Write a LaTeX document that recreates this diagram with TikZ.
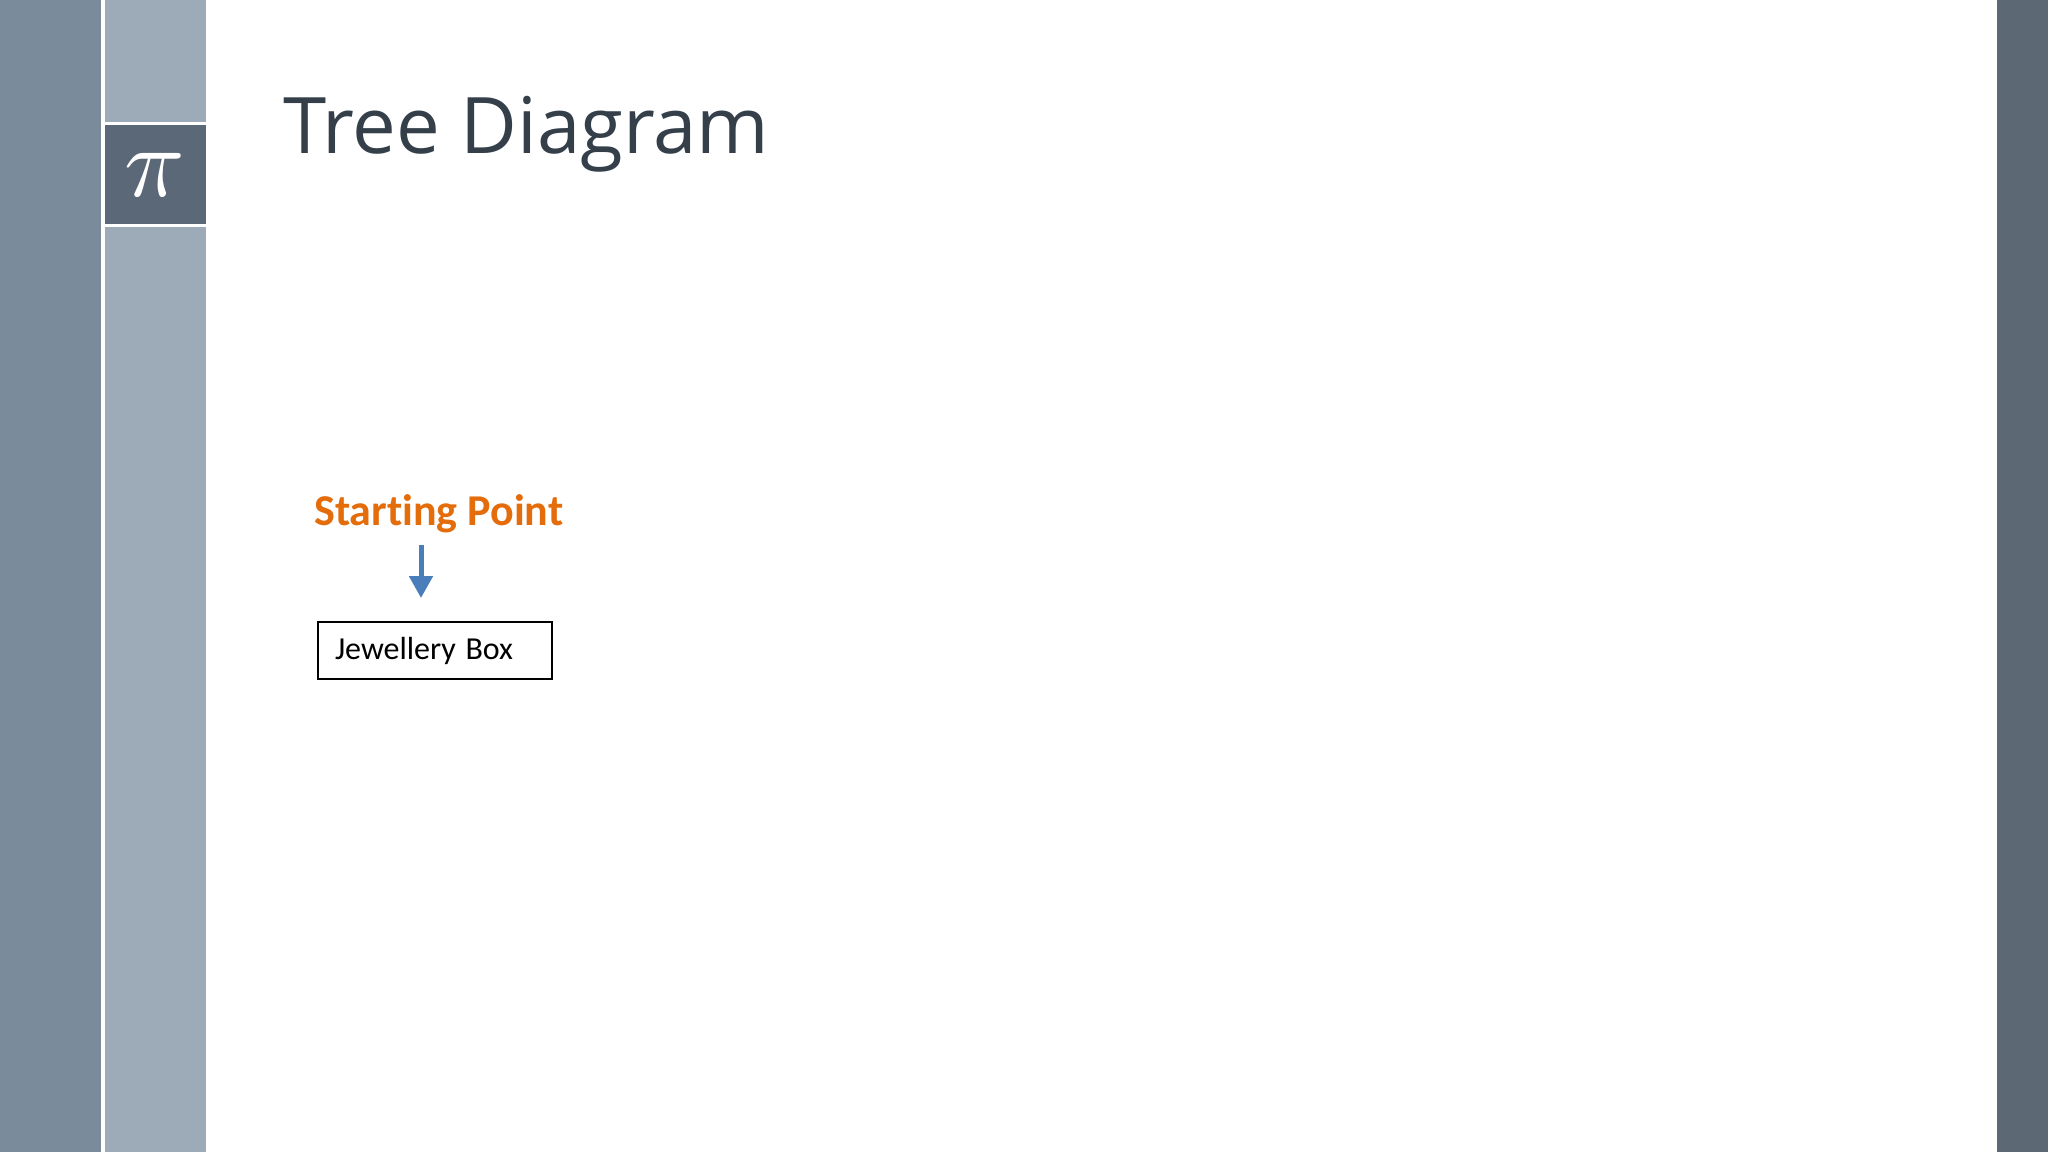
\documentclass[tikz,border=0pt]{standalone}
\usepackage{fontspec}
\usepackage{tikz}
\usetikzlibrary{arrows.meta}
\newfontfamily\titlefont{Open Sans}
\newfontfamily\calibri[Ligatures={NoCommon}]{Carlito}
\definecolor{barouter}{HTML}{7A8C9B}
\definecolor{barinner}{HTML}{9DAAB7}
\definecolor{pibox}{HTML}{5B6877}
\definecolor{barright}{HTML}{5C6874}
\definecolor{titlegray}{HTML}{343F4A}
\definecolor{startorange}{HTML}{E46C0A}
\definecolor{arrowblue}{HTML}{4A7EBB}

\begin{document}
\begin{tikzpicture}[x=1pt, y=-1pt, nodes={inner sep=0pt}]
\useasboundingbox (0,0) rectangle (2048,1152);
\fill[white] (0,0) rectangle (2048,1152);
% side bars
\fill[barouter] (0,0) rectangle (101,1152);
\fill[barinner] (105,0) rectangle (206,1152);
\fill[white] (105,122) rectangle (206,227);
\fill[pibox] (105,125) rectangle (206,224);
\fill[barright] (1997,0) rectangle (2048,1152);
\node[text=white, scale=10] (pi) at (155,175) {$\pi$};

\node[anchor=base west, text=titlegray] (title) at (283,153)
  {\titlefont\fontsize{78}{90}\selectfont Tree Diagram};
\node[anchor=base west, text=startorange] (start) at (314,525)
  {\calibri\bfseries\fontsize{44}{52}\selectfont Starting Point};
\node[draw, line width=2pt, anchor=north west, minimum height=57pt,
  text width=200pt, inner xsep=17pt, align=left] (box) at (317,621)
  {\calibri\fontsize{32}{38}\selectfont Jewellery\hspace{0.3em}Box};

\coordinate (a1) at (421,545);
\coordinate (a2) at (421,598);
\draw[arrowblue, line width=5pt, -{Triangle[width=23pt, length=22pt]}] (a1) -- (a2);
\end{tikzpicture}
\end{document}
